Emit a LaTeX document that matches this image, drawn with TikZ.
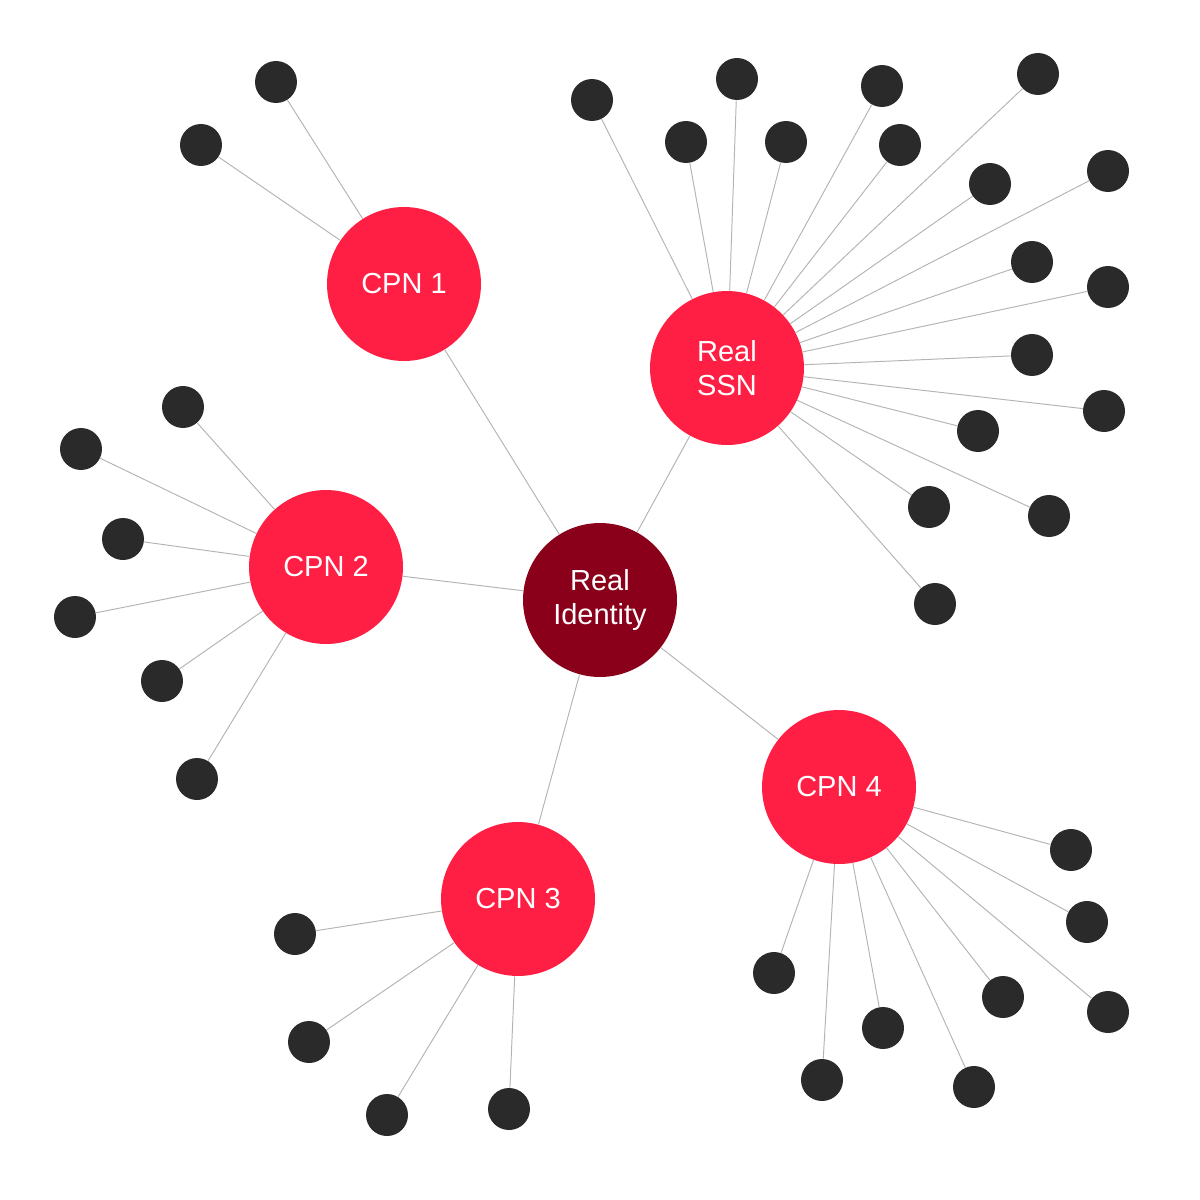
\documentclass[tikz,border=0pt]{standalone}
\usepackage{fontspec}
\setsansfont{Liberation Sans}
\usetikzlibrary{positioning}
\definecolor{hubred}{HTML}{FF1F45}
\definecolor{corered}{HTML}{8A001A}
\definecolor{dotgray}{HTML}{2A2A2A}
\definecolor{linegray}{HTML}{B4B4B4}

\begin{document}
\begin{tikzpicture}[x=0.02cm,y=-0.02cm,font=\sffamily\fontsize{16.5}{19.5}\selectfont,
  hub/.style={circle,fill=hubred,inner sep=0pt,minimum size=3.08cm,text=white,align=center},
  core/.style={hub,fill=corered},
  leaf/.style={circle,fill=dotgray,inner sep=0pt,minimum size=0.84cm},
  edge/.style={draw=linegray,line width=0.55pt}]
\useasboundingbox (0,0) rectangle (1200,1200);
% centre and the five hubs
\node[core] (id) at (600,600) {Real\\Identity};
\node[hub] (cpn1) at (404,284) {CPN 1};
\node[hub] (ssn) at (727,368) {Real\\SSN};
\node[hub] (cpn2) at (326,567) {CPN 2};
\node[hub] (cpn3) at (518,899) {CPN 3};
\node[hub] (cpn4) at (839,787) {CPN 4};
\foreach \h in {cpn1,ssn,cpn2,cpn3,cpn4} {\draw[edge] (id)--(\h);}
% leaves
\foreach \p [count=\i] in {(276,82),(201,145)}
  {\node[leaf] (a\i) at \p {}; \draw[edge] (cpn1)--(a\i);}
\foreach \p [count=\i] in {(183,407),(81,449),(123,539),(75,617),(162,681),(197,779)}
  {\node[leaf] (b\i) at \p {}; \draw[edge] (cpn2)--(b\i);}
\foreach \p [count=\i] in {(295,934),(309,1042),(387,1115),(509,1109)}
  {\node[leaf] (c\i) at \p {}; \draw[edge] (cpn3)--(c\i);}
\foreach \p [count=\i] in {(774,973),(822,1080),(883,1028),(974,1087),(1003,997),(1108,1012),(1087,922),(1071,850)}
  {\node[leaf] (d\i) at \p {}; \draw[edge] (cpn4)--(d\i);}
\foreach \p [count=\i] in {(592,100),(686,142),(737,79),(786,142),(882,86),(900,145),(1038,74),(990,184),(1108,171),
    (1032,262),(1108,287),(1032,355),(1104,411),(978,431),(1049,516),(929,507),(935,604)}
  {\node[leaf] (s\i) at \p {}; \draw[edge] (ssn)--(s\i);}
\end{tikzpicture}
\end{document}
